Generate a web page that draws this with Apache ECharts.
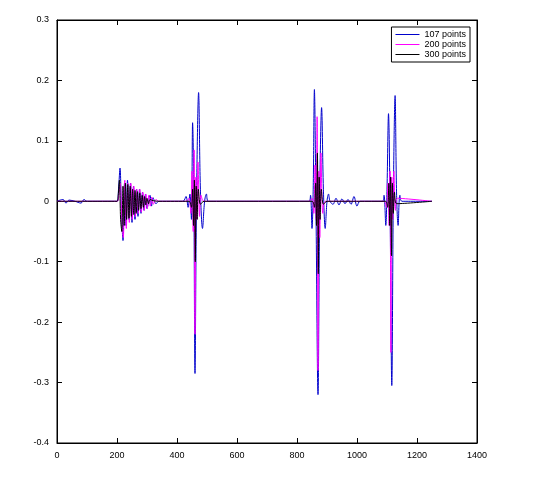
<!DOCTYPE html>
<html><head><meta charset="utf-8">
<script src="https://cdn.jsdelivr.net/npm/echarts@6/dist/echarts.min.js"></script>
<style>html,body{margin:0;padding:0;background:#fff}#c{width:535px;height:483px}</style>
</head><body><div id="c"></div>
<script>
const seriesNames = ['107 points', '200 points', '300 points'];
const blueX = [0,20,30,40,60,80,90,100,200,205,210,215,220,225,230,235,240,245,250,255,260,265,270,275,280,285,290,295,300,310,315,320,330,340,420,430,437,443,448,452,456,460,465,472,478,485,492,498,505,840,845,850,854,858,863,870,876,882,888,894,900,905,910,920,930,940,950,960,970,980,990,1000,1010,1085,1090,1096,1100,1105,1110,1116,1121,1127,1132,1137,1143,1150,1250];
const blueY = [0,0.003,-0.003,0.002,0,-0.003,0.003,0,0,0.02,0.055,-0.02,-0.065,0.03,-0.04,0.035,-0.03,0.03,-0.035,0.025,-0.03,0.02,-0.025,0.02,-0.02,0.015,-0.015,0.012,-0.012,0.01,-0.008,0.006,-0.004,0,0,0.008,-0.01,0.012,-0.03,0.13,0.02,-0.285,0,0.18,0.02,-0.045,0,0.012,0,0,0.01,-0.045,0.02,0.185,0,-0.32,0.02,0.155,0.02,-0.045,0,0.012,0,-0.005,0.005,-0.006,0.004,-0.004,0.003,-0.005,0.008,-0.008,0,0,0.01,-0.04,0.02,0.145,0,-0.305,0,0.175,0.01,-0.04,0.01,0,0];
const magX = [0,200,206,211,216,221,226,231,236,241,246,251,256,261,266,271,276,281,286,291,296,301,306,311,316,321,330,340,430,440,446,450,454,457,460,463,466,470,475,480,490,840,850,856,860,864,867,870,873,876,880,886,895,1090,1098,1103,1107,1110,1113,1116,1119,1123,1128,1135,1250];
const magY = [0,0,0.01,0.03,-0.03,-0.06,0.035,-0.045,0.03,-0.035,0.03,-0.03,0.025,-0.025,0.02,-0.02,0.02,-0.018,0.015,-0.015,0.012,-0.012,0.01,-0.008,0.007,-0.005,0.003,0,0,0.005,-0.02,0.05,-0.05,0.085,-0.22,0.04,-0.03,0.065,-0.025,0.01,0,0,0.005,-0.02,0.06,-0.03,0.14,-0.28,0.05,-0.06,0.08,-0.02,0,0,-0.01,0.03,-0.04,0.05,-0.25,0.04,-0.03,0.05,-0.015,0.005,0];
const blackX = [0,200,204,208,212,216,220,224,228,232,236,240,244,248,252,256,260,264,268,272,276,280,284,288,292,296,300,305,310,320,340,440,448,452,455,458,461,464,467,471,478,490,850,858,862,865,868,871,874,877,881,888,900,1095,1102,1106,1109,1112,1115,1118,1121,1125,1132,1250];
const blackY = [0,0,0.01,0.035,-0.03,-0.05,0.025,-0.04,0.03,-0.03,0.028,-0.028,0.025,-0.025,0.02,-0.022,0.018,-0.02,0.016,-0.015,0.014,-0.012,0.01,-0.01,0.008,-0.006,0.005,-0.004,0.003,0.001,0,0,-0.01,0.02,-0.04,0.035,-0.1,0.025,-0.03,0.02,-0.005,0,0,-0.01,0.03,-0.04,0.08,-0.12,0.04,-0.03,0.02,-0.005,0,0,-0.01,0.03,-0.04,0.04,-0.09,0.03,-0.02,0.015,-0.004,0];

const zip = (xs, ys) => xs.map((x, i) => [x, ys[i]]);
const chart = echarts.init(document.getElementById('c'));
const labelStyle = {color: '#000', fontSize: 9, fontFamily: 'Liberation Sans, Arial'};
const axisCommon = {
  axisLine: {show: true, onZero: false, lineStyle: {color: '#000', width: 1}},
  axisTick: {show: true, inside: true, length: 5, lineStyle: {color: '#000'}},
  splitLine: {show: false}
};
chart.setOption({
  animation: false,
  grid: {left: 57, right: 58, top: 20, bottom: 40, show: true, borderColor: '#000', borderWidth: 1},
  legend: {
    right: 65, top: 27, orient: 'vertical', itemGap: 1, itemWidth: 24, itemHeight: 1,
    icon: 'rect', backgroundColor: '#fff', borderColor: '#000', borderWidth: 1, padding: [3, 4, 3, 4],
    textStyle: {fontSize: 9, color: '#000', fontFamily: 'Liberation Sans, Arial'},
    data: seriesNames
  },
  xAxis: [
    Object.assign({type: 'value', min: 0, max: 1400, interval: 200, position: 'bottom',
      axisLabel: Object.assign({formatter: v => String(v)}, labelStyle)}, axisCommon),
    Object.assign({type: 'value', min: 0, max: 1400, interval: 200, position: 'top', axisLabel: {show: false}}, axisCommon)
  ],
  yAxis: [
    Object.assign({type: 'value', min: -0.4, max: 0.3, interval: 0.1, position: 'left',
      axisLabel: Object.assign({formatter: v => String(Math.round(v * 10) / 10)}, labelStyle)}, axisCommon),
    Object.assign({type: 'value', min: -0.4, max: 0.3, interval: 0.1, position: 'right', axisLabel: {show: false}}, axisCommon)
  ],
  series: [
    {name: seriesNames[0], type: 'line', data: zip(blueX, blueY), smooth: 0.35, showSymbol: false, lineStyle: {color: '#0000cc', width: 1}, itemStyle: {color: '#0000cc'}},
    {name: seriesNames[1], type: 'line', data: zip(magX, magY), smooth: 0.3, showSymbol: false, lineStyle: {color: '#ff00ff', width: 1}, itemStyle: {color: '#ff00ff'}},
    {name: seriesNames[2], type: 'line', data: zip(blackX, blackY), smooth: 0.3, showSymbol: false, lineStyle: {color: '#000', width: 1}, itemStyle: {color: '#000'}}
  ]
});
</script></body></html>
